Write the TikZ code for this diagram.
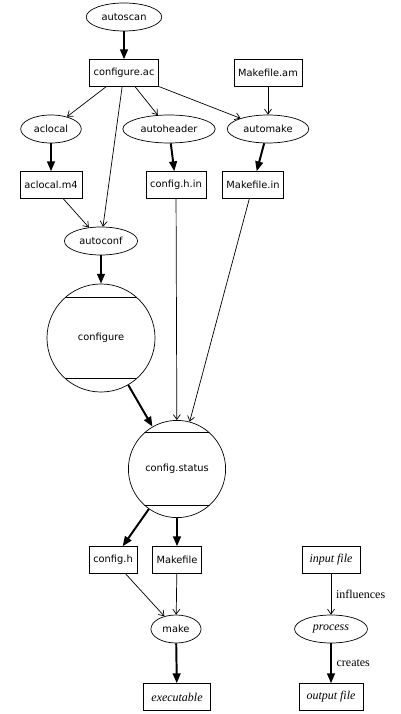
\documentclass[tikz,border=0pt]{standalone}
\usepackage{fontspec}
\setmainfont{Liberation Serif}
\newfontfamily\dejavu{DejaVu Sans}
\usetikzlibrary{arrows.meta,shapes.geometric,calc}

\begin{document}
\begin{tikzpicture}[x=0.025cm, y=-0.025cm,
  filebox/.style={draw, rectangle, line width=0.5pt, font=\dejavu\fontsize{7}{8}\selectfont,
    minimum height=0.67cm, inner xsep=3pt},
  toolnode/.style={draw, ellipse, line width=0.5pt, font=\dejavu\fontsize{7}{8}\selectfont,
    minimum height=0.7cm, inner xsep=3pt, inner ysep=1pt},
  scriptnode/.style={draw, circle, line width=0.5pt, font=\dejavu\fontsize{7}{8}\selectfont,
    inner sep=0pt, path picture={
      \draw[line width=0.5pt] ($(path picture bounding box.north west)!0.125!(path picture bounding box.south west)$)
        -- ($(path picture bounding box.north east)!0.125!(path picture bounding box.south east)$);
      \draw[line width=0.5pt] ($(path picture bounding box.north west)!0.875!(path picture bounding box.south west)$)
        -- ($(path picture bounding box.north east)!0.875!(path picture bounding box.south east)$);}},
  keybox/.style={filebox, font=\itshape\fontsize{8.5}{10}\selectfont, inner xsep=5.5pt},
  keytool/.style={toolnode, font=\itshape\fontsize{8.5}{10}\selectfont, inner xsep=5.5pt},
  arr/.style={-{Straight Barb[length=3.5pt, width=5pt]}, line width=0.5pt},
  thickarr/.style={-{Triangle[length=7pt, width=5.5pt]}, line width=1.4pt}]
\useasboundingbox (0,0) rectangle (400,714);
% Nodes
\node[toolnode] (autoscan) at (124,17) {autoscan};
\node[filebox] (confac) at (124,73) {configure.ac};
\node[filebox] (mkam) at (268,73) {Makefile.am};
\node[toolnode] (aclocal) at (51,129) {aclocal};
\node[toolnode] (autoheader) at (169,129) {autoheader};
\node[toolnode] (automake) at (268,129) {automake};
\node[filebox] (aclm4) at (51,185) {aclocal.m4};
\node[filebox] (cfghin) at (176,185) {config.h.in};
\node[filebox] (mkin) at (253,185) {Makefile.in};
\node[toolnode] (autoconf) at (101,241) {autoconf};
\node[scriptnode, minimum size=2.7cm] (configure) at (101,338) {configure};
\node[scriptnode, minimum size=2.43cm] (status) at (177,469) {config.status};
\node[filebox] (cfgh) at (113,560) {config.h};
\node[filebox] (mk) at (177,560) {Makefile};
\node[toolnode] (make) at (176,629) {make};
\node[keybox] (exe) at (177,697) {executable};
% Legend
\node[keybox] (input) at (331,560) {input file};
\node[keytool] (process) at (331,629) {process};
\node[keybox] (output) at (331,697) {output file};
% Arrows
\draw[thickarr] (autoscan) -- (confac);
\draw[arr] (confac) -- (aclocal);
\draw[arr] (confac) -- (autoheader);
\draw[arr] (confac) -- (automake);
\draw[arr] (confac) -- (autoconf);
\draw[arr] (mkam) -- (automake);
\draw[thickarr] (aclocal) -- (aclm4);
\draw[thickarr] (autoheader) -- (cfghin);
\draw[thickarr] (automake) -- (mkin);
\draw[arr] (aclm4) -- (autoconf);
\draw[thickarr] (autoconf) -- (configure);
\draw[thickarr] (configure) -- (status);
\draw[arr] (cfghin) -- (status);
\draw[arr] (mkin) -- (status);
\draw[thickarr] (status) -- (cfgh);
\draw[thickarr] (status) -- (mk);
\draw[arr] (cfgh) -- (make);
\draw[arr] (mk) -- (make);
\draw[thickarr] (make) -- (exe);
\draw[arr] (input) -- (process) node[midway, right, font=\fontsize{8.5}{10}\selectfont] {influences};
\draw[thickarr] (process) -- (output) node[midway, right, font=\fontsize{8.5}{10}\selectfont] {creates};
\end{tikzpicture}
\end{document}
